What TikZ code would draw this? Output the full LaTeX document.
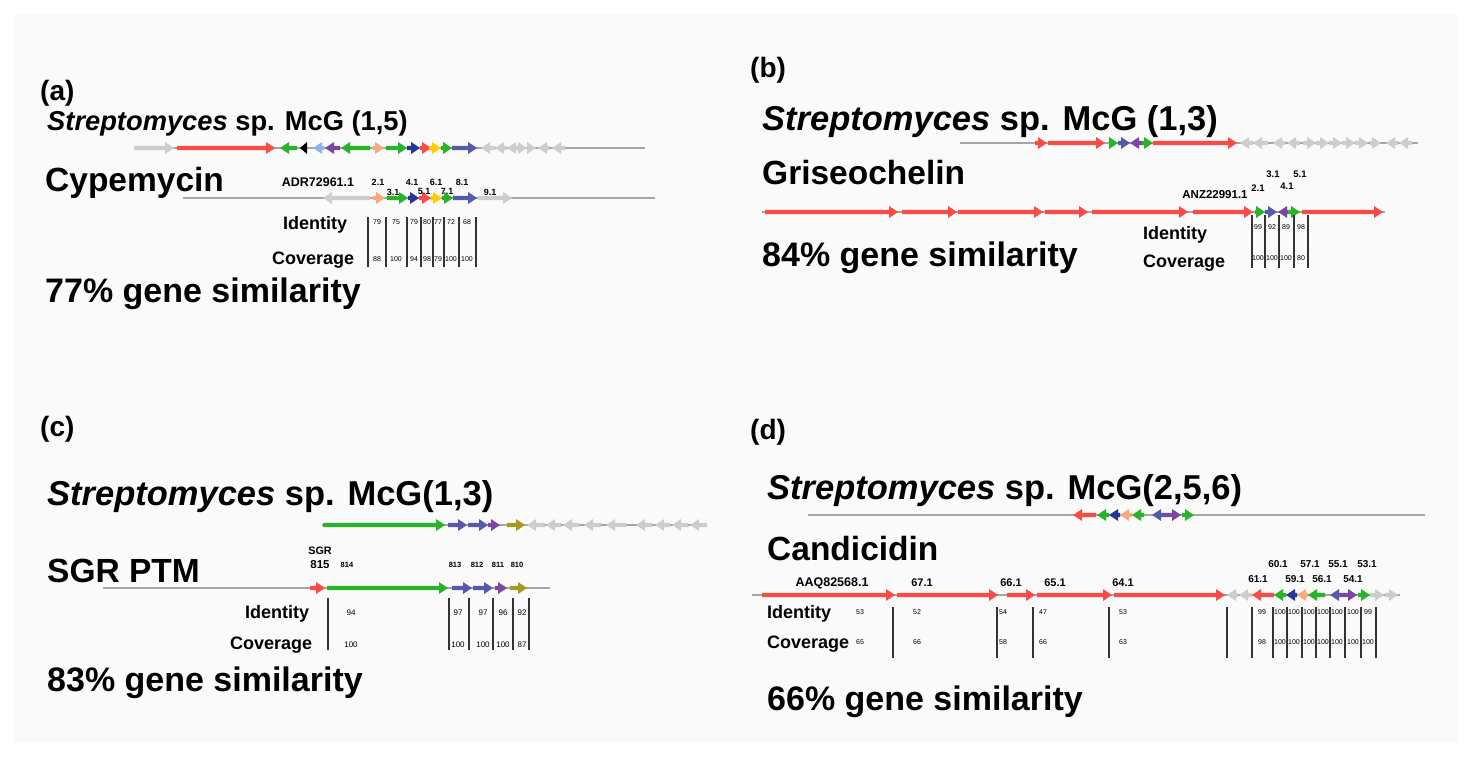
\documentclass[tikz,border=0pt]{standalone}
\usepackage{fontspec}
\setmainfont{Liberation Sans}
\definecolor{genered}{RGB}{250,75,70}
\definecolor{genegreen}{RGB}{40,180,40}
\definecolor{geneblue}{RGB}{40,55,150}
\definecolor{geneviolet}{RGB}{85,90,170}
\definecolor{genepurple}{RGB}{125,70,165}
\definecolor{genepeach}{RGB}{250,170,120}
\definecolor{geneyellow}{RGB}{255,205,0}
\definecolor{genesky}{RGB}{140,180,230}
\definecolor{geneolive}{RGB}{165,155,30}
\definecolor{genegray}{RGB}{205,205,205}
\definecolor{trackgray}{RGB}{165,165,165}
% gene arrow: start x, end x (tip), y, colour
\newcommand{\gene}[4]{%
  \pgfmathsetmacro{\gl}{(#2)-(#1)}%
  \pgfmathsetmacro{\gh}{min(abs(\gl),9)*sign(\gl)}%
  \fill[#4] (#1,#3-2.2) -- ({#2-\gh},#3-2.2) -- ({#2-\gh},#3-6) -- (#2,#3)
    -- ({#2-\gh},#3+6) -- ({#2-\gh},#3+2.2) -- (#1,#3+2.2) -- cycle;}
\begin{document}
\begin{tikzpicture}[x=1pt,y=-1pt,
  panel/.style={font=\fontsize{28}{30}\selectfont\bfseries,anchor=base west,inner sep=0pt},
  ttl/.style={font=\fontsize{34.5}{36}\selectfont\bfseries,anchor=base west,inner sep=0pt},
  bgcname/.style={font=\fontsize{33.5}{36}\selectfont\bfseries,anchor=base west,inner sep=0pt},
  rowlab/.style={font=\fontsize{18}{20}\selectfont\bfseries,anchor=base west,inner sep=0pt},
  acc/.style={font=\fontsize{12.5}{14}\selectfont\bfseries,inner sep=0pt},
  tag/.style={font=\fontsize{9}{10}\selectfont\bfseries,inner sep=0pt},
  num/.style={font=\fontsize{7}{8}\selectfont,inner sep=0pt},
  track/.style={trackgray,line width=1.6pt},
  tabline/.style={black!80,line width=1.3pt}]
\useasboundingbox (0,0) rectangle (1471,757);
\fill[white] (0,0) rectangle (1471,757);
\fill[gray!4] (14,14) rectangle (1457,743);

% ---------- (a)
\node[panel] (pa) at (40,101) {(a)};
\node[ttl,font=\fontsize{27.3}{30}\selectfont\bfseries] (ta) at (47,130) {\textit{Streptomyces} sp. McG (1,5)};
\node[bgcname] (na) at (45,191) {Cypemycin};
\node[ttl,font=\fontsize{34}{36}\selectfont\bfseries] (sa) at (45,302) {77\% gene similarity};
\draw[track] (134,148) -- (645,148);
\foreach \a/\b/\c in {134/174/genegray,177/275/genered,297/280/genegreen,307/300/black,
  324/313/genesky,340/325/genepurple,370/341/genegreen,373/384/genepeach,386/407/genegreen,
  407/420/geneblue,420/431/genered,429/441/geneyellow,441/452/genegreen,452/477/geneviolet,
  495/481/genegray,507/495/genegray,516/507/genegray,516/527/genegray,527/536/genegray,
  549/538/genegray,565/552/genegray}
  \gene{\a}{\b}{148}{\c};
\draw[track] (183,198) -- (655,198);
\foreach \a/\b/\c in {370/323/genegray,373/385/genepeach,387/408/genegreen,408/419/geneblue,
  419/431/genered,431/442/geneyellow,442/453/genegreen,453/477/geneviolet,478/512/genegray}
  \gene{\a}{\b}{198}{\c};
\node[acc] (acca) at (318,182) {ADR72961.1};
\foreach \x/\y/\t [count=\k] in {378/182/2.1,393/192/3.1,412/182/4.1,424/191/5.1,
  436/182/6.1,447/191/7.1,462/182/8.1,490/192/9.1}
  \node[tag] (ga\k) at (\x,\y) {\t};
\node[rowlab] (ida) at (283,229) {Identity};
\node[rowlab] (cova) at (272,264) {Coverage};
\foreach \x in {368,386,407,421,433,444,459,476}
  \draw[tabline] (\x,217) -- (\x,267);
\foreach \x/\i/\c [count=\k] in {377/79/88,396/75/100,414/79/94,427/80/98,438/77/79,
  451/72/100,467/68/100}
  {\node[num] (ia\k) at (\x,222) {\i}; \node[num] (ca\k) at (\x,259) {\c};}

% ---------- (b)
\node[panel] (pb) at (750,78) {(b)};
\node[ttl] (tb) at (762,130) {\textit{Streptomyces} sp. McG (1,3)};
\node[bgcname] (nb) at (762,184) {Griseochelin};
\node[ttl,font=\fontsize{34}{36}\selectfont\bfseries] (sb) at (762,266) {84\% gene similarity};
\draw[track] (960,143) -- (1418,143);
\foreach \a/\b/\c in {1035/1047/genered,1048/1105/genered,1109/1118/genegreen,1118/1130/geneviolet,
  1142/1130/genepurple,1142/1153/genegreen,1153/1237/genered,
  1253/1240/genegray,1268/1253/genegray,1285/1273/genegray,1300/1287/genegray,
  1303/1316/genegray,1316/1329/genegray,1329/1342/genegray,1342/1355/genegray,
  1355/1368/genegray,1370/1381/genegray,1398/1386/genegray,1412/1399/genegray}
  \gene{\a}{\b}{143}{\c};
\draw[track] (762,212) -- (1385,212);
\foreach \a/\b/\c in {765/898/genered,902/957/genered,958/1043/genered,1045/1088/genered,
  1092/1188/genered,1193/1253/genered,1255/1265/genegreen,1265/1277/geneviolet,
  1288/1278/genepurple,1288/1300/genegreen,1302/1383/genered}
  \gene{\a}{\b}{212}{\c};
\node[acc,font=\fontsize{11.5}{13}\selectfont\bfseries] (accb) at (1215,195) {ANZ22991.1};
\foreach \x/\y/\t [count=\k] in {1258/188/2.1,1273/174/3.1,1287/186/4.1,1300/174/5.1}
  \node[tag,font=\fontsize{9.5}{11}\selectfont\bfseries] (gb\k) at (\x,\y) {\t};
\node[rowlab] (idb) at (1143,239) {Identity};
\node[rowlab] (covb) at (1143,267) {Coverage};
\foreach \x in {1252,1265,1279,1294,1308}
  \draw[tabline] (\x,215) -- (\x,268);
\foreach \x/\i/\c [count=\k] in {1258/99/100,1272/92/100,1286/89/100,1301/98/80}
  {\node[num] (ib\k) at (\x,227) {\i}; \node[num] (cb\k) at (\x,258) {\c};}

% ---------- (c)
\node[panel] (pc) at (40,436) {(c)};
\node[ttl] (tc) at (47,505) {\textit{Streptomyces} sp. McG(1,3)};
\node[bgcname] (nc) at (47,582) {SGR PTM};
\node[ttl,font=\fontsize{34}{36}\selectfont\bfseries] (sc) at (47,691) {83\% gene similarity};
\draw[track] (322,525) -- (707,525);
\foreach \a/\b/\c in {323/445/genegreen,448/467/geneviolet,468/488/geneviolet,488/500/genepurple,
  507/525/geneolive,545/527/genegray,561/546/genegray,579/563/genegray,601/584/genegray,
  626/606/genegray,652/636/genegray,670/655/genegray,688/672/genegray,707/690/genegray}
  \gene{\a}{\b}{525}{\c};
\draw[track] (103,588) -- (550,588);
\foreach \a/\b/\c in {310/325/genered,327/448/genegreen,452/472/geneviolet,473/493/geneviolet,
  495/507/genepurple,510/527/geneolive}
  \gene{\a}{\b}{588}{\c};
\node[tag,font=\fontsize{10.8}{12}\selectfont\bfseries] (sgr) at (320,551) {SGR};
\node[tag,font=\fontsize{11.5}{13}\selectfont\bfseries] (gc1) at (320,565) {815};
\foreach \x/\t [count=\k] in {347/814,455/813,477/812,498/811,517/810}
  \node[tag,font=\fontsize{7.5}{9}\selectfont\bfseries] (gcs\k) at (\x,565) {\t};
\node[rowlab] (idc) at (245,618) {Identity};
\node[rowlab] (covc) at (230,649) {Coverage};
\foreach \x in {328,449,469,493,513,529}
  \draw[tabline] (\x,598) -- (\x,650);
\foreach \x/\i/\c [count=\k] in {351/94/100,458/97/100,483/97/100,503/96/100,522/92/87}
  {\node[num,font=\fontsize{8}{9}\selectfont] (ic\k) at (\x,613) {\i};
   \node[num,font=\fontsize{8}{9}\selectfont] (cc\k) at (\x,645) {\c};}

% ---------- (d)
\node[panel] (pd) at (750,439) {(d)};
\node[ttl] (td) at (767,499) {\textit{Streptomyces} sp. McG(2,5,6)};
\node[bgcname] (nd) at (767,560) {Candicidin};
\node[ttl,font=\fontsize{34}{36}\selectfont\bfseries] (sd) at (767,710) {66\% gene similarity};
\draw[track] (808,515) -- (1425,515);
\foreach \a/\b/\c in {1096/1073/genered,1109/1097/genegreen,1120/1109/geneblue,1132/1120/genepeach,
  1144/1132/genegreen,1165/1152/geneviolet,1165/1181/genepurple,1182/1194/genegreen}
  \gene{\a}{\b}{515}{\c};
\draw[track] (752,595) -- (1400,595);
\foreach \a/\b/\c in {762/895/genered,897/998/genered,1007/1035/genered,1037/1112/genered,
  1114/1225/genered,1238/1227/genegray,1252/1239/genegray,1274/1252/genered,1286/1274/genegreen,
  1297/1286/geneblue,1308/1297/genepeach,1325/1308/genegreen,1340/1330/geneviolet,
  1340/1357/genepurple,1358/1370/genegreen,1370/1384/genegray,1385/1398/genegray}
  \gene{\a}{\b}{595}{\c};
\node[acc] (accd) at (832,583) {AAQ82568.1};
\foreach \x/\t [count=\k] in {922/67.1,1011/66.1,1055/65.1,1123/64.1}
  \node[tag,font=\fontsize{11}{12}\selectfont\bfseries] (gd\k) at (\x,583) {\t};
\foreach \x/\y/\t [count=\k] in {1278/564/60.1,1310/564/57.1,1338/564/55.1,1367/564/53.1,
  1258/579/61.1,1295/579/59.1,1322/579/56.1,1353/579/54.1}
  \node[tag,font=\fontsize{10}{11}\selectfont\bfseries] (gdd\k) at (\x,\y) {\t};
\node[rowlab] (idd) at (767,618) {Identity};
\node[rowlab] (covd) at (767,648) {Coverage};
\foreach \x in {893,997,1033,1109,1227,1252,1273,1287,1302,1316,1330,1345,1361,1376}
  \draw[tabline] (\x,607) -- (\x,658);
\foreach \x/\i/\c [count=\k] in {860/53/65,917/52/66,1003/54/58,1043/47/66,1123/53/63,
  1262/99/98,1280/100/100,1294/100/100,1309/100/100,1323/100/100,1337/100/100,
  1353/100/100,1368/99/100}
  {\node[num] (id\k) at (\x,612) {\i}; \node[num] (cd\k) at (\x,642) {\c};}
\end{tikzpicture}
\end{document}
